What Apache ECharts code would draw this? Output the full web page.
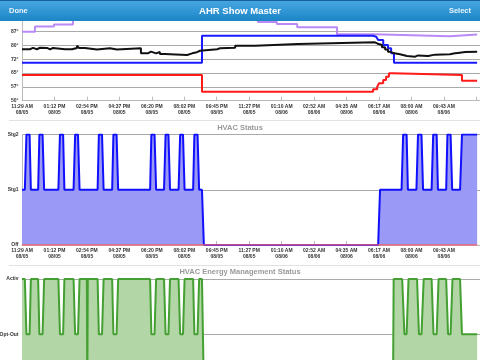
<!DOCTYPE html>
<html><head><meta charset="utf-8">
<script src="https://cdn.jsdelivr.net/npm/echarts@6/dist/echarts.min.js"></script>
<style>html,body{margin:0;padding:0;background:#fff}#c{width:480px;height:360px}</style>
</head><body><div id="c"></div>
<script>
// x values: minutes since 11:29 AM 08/05
const timeLabels = ['11:29 AM','01:12 PM','02:54 PM','04:37 PM','06:20 PM','08:02 PM','09:45 PM','11:27 PM','01:10 AM','02:52 AM','04:35 AM','06:17 AM','08:00 AM','09:43 AM'];
const dateLabels = ['08/05','08/05','08/05','08/05','08/05','08/05','08/05','08/05','08/06','08/06','08/06','08/06','08/06','08/06'];
const statusLabels = ['Off','Stg1','Stg2'];
const energyLabels = ['Off','Opt-Out','Activ'];

const outdoorTemp = [[0,87.0],[41,89.8],[101,90.9],[161,96],[746,92.2],[806,91.1],[870,89.4],[996,85.6],[1113,84.6],[1353,85.5],[1439,85.5]];
const spaceTemp = [[0,77.6],[25,78.3],[35,77.6],[47,78.4],[57,77.6],[63,78.3],[79,77.5],[89,78.3],[98,77.6],[136,78.3],[142,77.6],[158,78.3],[174,79.5],[180,78.3],[199,77.4],[237,78.1],[278,77.4],[300,78.1],[376,75.4],[398,76.3],[408,75.4],[424,76.1],[436,75.0],[452,74.9],[468,74.5],[522,75.4],[538,76.0],[553,76.8],[563,77.6],[617,78.1],[626,78.4],[674,79.5],[737,80.4],[873,81.3],[1116,80.7],[1123,79.9],[1138,78.6],[1148,77.5],[1157,76.3],[1164,75.6],[1173,74.9],[1195,74.0],[1217,73.6],[1243,74.3],[1252,74.0],[1284,74.7],[1306,75.4],[1312,74.9],[1353,75.4],[1369,75.0],[1375,75.6],[1378,76.1],[1401,76.3],[1439,76.3]];
const coolSetpoint = [[0,70.4],[569,84.8],[1110,84.3],[1120,83.4],[1126,82.5],[1142,79.9],[1157,78.1],[1167,75.5],[1176,70.4],[1439,70.4]];
const heatSetpoint = [[0,63.8],[569,54.8],[1110,56.1],[1123,57.5],[1129,59.3],[1142,61.1],[1151,62.9],[1160,64.7],[1173,63.8],[1391,60.7],[1439,60.7]];

const hvacCool = [[0,1],[9,1],[14,2],[24,2],[28,1],[51,1],[55,2],[65,2],[70,1],[115,1],[120,2],[130,2],[134,1],[163,1],[168,2],[177,2],[182,1],[239,1],[243,2],[253,2],[258,1],[285,1],[289,2],[299,2],[304,1],[405,1],[409,2],[419,2],[424,1],[449,1],[454,2],[463,2],[468,1],[495,1],[500,2],[509,2],[514,1],[541,1],[545,2],[555,2],[560,1],[569,1],[575,0],[1126,0],[1132,1],[1200,1],[1205,2],[1216,2],[1220,1],[1247,1],[1252,2],[1263,2],[1268,1],[1295,1],[1300,2],[1311,2],[1315,1],[1341,1],[1345,2],[1355,2],[1360,1],[1385,1],[1391,2],[1439,2]];
const hvacHeat = [[0,0],[1439,0]];
const energyStatus = [[0,2],[9,2],[14,1],[24,1],[28,2],[51,2],[55,1],[65,1],[70,2],[115,2],[120,1],[130,1],[134,2],[163,2],[168,1],[177,1],[182,2],[205,2],[206.5,0],[208,2],[239,2],[243,1],[253,1],[258,2],[285,2],[289,1],[299,1],[304,2],[405,2],[409,1],[419,1],[424,2],[449,2],[454,1],[463,1],[468,2],[495,2],[500,1],[509,1],[514,2],[541,2],[545,1],[555,1],[560,2],[569,2],[575,0],[1173,0],[1175,2],[1202,2],[1209,1],[1216,1],[1222,2],[1249,2],[1255,1],[1263,1],[1270,2],[1295,2],[1301,1],[1311,1],[1317,2],[1341,2],[1347,1],[1355,1],[1361,2],[1385,2],[1391,1],[1439,1]];

const TICK = 102.6, XMAX = 1448;
const FONT = 'Liberation Sans';
function xFmt(v){
  const i = Math.round(v / TICK);
  if (Math.abs(v - i*TICK) > 1 || i >= timeLabels.length) return '';
  return timeLabels[i] + '\n' + dateLabels[i];
}
function xAxis(gi, show){
  return {type:'value', gridIndex:gi, min:0, max:XMAX, interval:TICK,
    axisLine:{show:true, lineStyle:{color:'#bbb', width:1}},
    axisTick:{show:true, inside:true, length:4, lineStyle:{color:'#bbb'}},
    splitLine:{show:false},
    axisLabel:{show:show, formatter:xFmt, fontSize:5, fontWeight:'bold', color:'#333', lineHeight:6, margin:3, fontFamily:FONT}};
}
function yAxis(gi, extra){
  return Object.assign({type:'value', gridIndex:gi,
    axisLine:{show:true, lineStyle:{color:'#bbb'}},
    axisTick:{show:false},
    splitLine:{show:true, lineStyle:{color:'#aaa', width:1}}}, extra);
}
const lbl = {fontSize:5, fontWeight:'bold', color:'#333', margin:3.5, fontFamily:FONT};

const chart = echarts.init(document.getElementById('c'), null, {renderer:'canvas'});
chart.setOption({
  animation:false,
  backgroundColor:'#fff',
  grid:[
    {left:22, right:0, top:17.9, height:82.8, outerBoundsMode:'none', containLabel:false},
    {left:22, right:0, top:134.5, height:110.5, outerBoundsMode:'none', containLabel:false},
    {left:22, right:0, top:279, height:110.6, outerBoundsMode:'none', containLabel:false}
  ],
  xAxis:[xAxis(0,true), xAxis(1,true), xAxis(2,false)],
  yAxis:[
    yAxis(0,{min:50, max:94.4, interval:7.4, axisLabel:Object.assign({formatter:v=>Math.round(v)+'°'}, lbl)}),
    yAxis(1,{min:0, max:2, interval:1, axisLabel:Object.assign({formatter:v=>statusLabels[Math.round(v)]}, lbl)}),
    yAxis(2,{min:0, max:2, interval:1, axisLabel:Object.assign({formatter:v=>energyLabels[Math.round(v)]}, lbl)})
  ],
  series:[
    {name:'Outdoor', type:'line', xAxisIndex:0, yAxisIndex:0, step:'end', data:outdoorTemp, symbol:'none', lineStyle:{color:'#b98af5', width:2}},
    {name:'Heat Setpoint', type:'line', xAxisIndex:0, yAxisIndex:0, step:'end', data:heatSetpoint, symbol:'none', lineStyle:{color:'#ff1a1a', width:2}},
    {name:'Cool Setpoint', type:'line', xAxisIndex:0, yAxisIndex:0, step:'end', data:coolSetpoint, symbol:'none', lineStyle:{color:'#1a1aff', width:2}},
    {name:'Space Temp', type:'line', xAxisIndex:0, yAxisIndex:0, step:'end', data:spaceTemp, symbol:'none', lineStyle:{color:'#111', width:2}},
    {name:'Cooling', type:'line', xAxisIndex:1, yAxisIndex:1, data:hvacCool, symbol:'none', lineStyle:{color:'#1010ff', width:2}, areaStyle:{color:'#9a9af6', opacity:1}},
    {name:'Heating', type:'line', xAxisIndex:1, yAxisIndex:1, data:hvacHeat, symbol:'none', lineStyle:{color:'#f06070', width:1.5}},
    {name:'Energy Mgmt', type:'line', xAxisIndex:2, yAxisIndex:2, data:energyStatus, symbol:'none', lineStyle:{color:'#44a032', width:2}, areaStyle:{color:'#b3d6a6', opacity:1}}
  ],
  graphic:[
    {type:'rect', z:100, shape:{x:0,y:0,width:480,height:21},
      style:{fill:new echarts.graphic.LinearGradient(0,0,0,1,[{offset:0,color:'#48a8e2'},{offset:1,color:'#1c85c6'}])}},
    {type:'rect', z:100, shape:{x:0,y:0,width:480,height:1}, style:{fill:'#15609a'}},
    {type:'text', z:101, x:9, y:11, style:{text:'Done', fill:'#eaf5fd', font:'bold 7.5px "Liberation Sans"', verticalAlign:'middle'}},
    {type:'text', z:101, x:240, y:11, style:{text:'AHR Show Master', fill:'#fff', font:'bold 9.5px "Liberation Sans"', align:'center', verticalAlign:'middle'}},
    {type:'text', z:101, x:471, y:11, style:{text:'Select', fill:'#eaf5fd', font:'bold 7.5px "Liberation Sans"', align:'right', verticalAlign:'middle'}},
    {type:'rect', z:50, shape:{x:9,y:120,width:471,height:1}, style:{fill:'#e2e2e2'}},
    {type:'rect', z:50, shape:{x:9,y:265,width:471,height:1}, style:{fill:'#e2e2e2'}},
    {type:'text', z:50, x:240, y:127.5, style:{text:'HVAC Status', fill:'#9a9a9a', font:'bold 7.5px "Liberation Sans"', align:'center', verticalAlign:'middle'}},
    {type:'text', z:50, x:240, y:272, style:{text:'HVAC Energy Management Status', fill:'#9a9a9a', font:'bold 7.5px "Liberation Sans"', align:'center', verticalAlign:'middle'}}
  ]
});
</script>
</body></html>
